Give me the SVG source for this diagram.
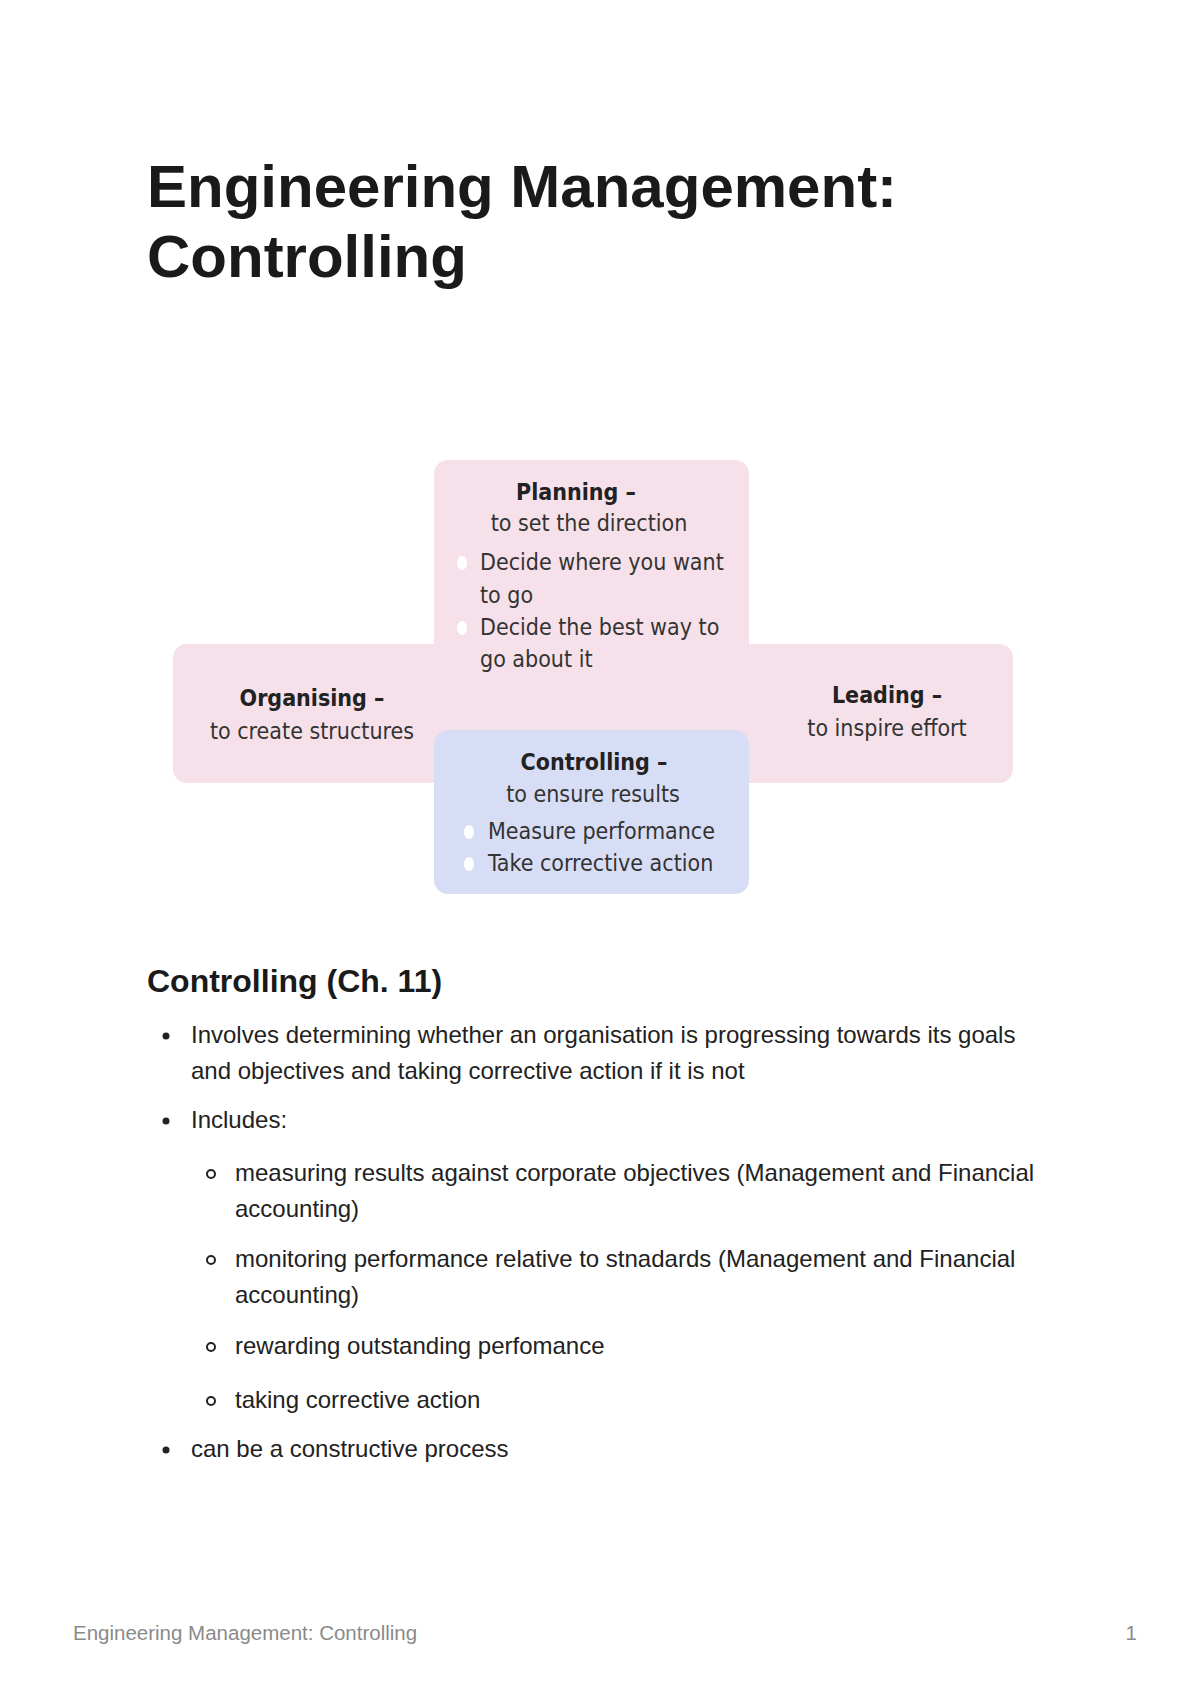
<svg xmlns="http://www.w3.org/2000/svg" width="1200" height="1698" viewBox="0 0 1200 1698">
<style>
.t{font-family:"Liberation Sans",Arial,sans-serif;fill:#1a1a1a}
.b{font-size:24px;fill:#222}
.d{font-family:"DejaVu Sans Condensed","Liberation Sans Narrow","Liberation Sans",sans-serif;font-size:23px;fill:#333}
.h{font-weight:bold;fill:#222}
.pk{fill:#f6e1ea}
</style>
<rect width="1200" height="1698" fill="#fff"/>
<text class="t" x="147" y="207" font-size="60" font-weight="bold">Engineering Management:</text>
<text class="t" x="147" y="277" font-size="60" font-weight="bold">Controlling</text>
<g transform="translate(-4,-4)">
<g id="band"><rect class="pk" x="177" y="648" width="840" height="139" rx="14"/></g>
<g id="planning">
<rect class="pk" x="438" y="464" width="315" height="220" rx="14"/>
<text class="d h" x="580" y="504" text-anchor="middle">Planning –</text>
<text class="d" x="593" y="535" text-anchor="middle">to set the direction</text>
<ellipse cx="466" cy="567" rx="5" ry="7" fill="#fff"/>
<text class="d" x="484" y="574">Decide where you want</text>
<text class="d" x="484" y="607">to go</text>
<ellipse cx="466" cy="632" rx="5" ry="7" fill="#fff"/>
<text class="d" x="484" y="639">Decide the best way to</text>
<text class="d" x="484" y="671">go about it</text>
</g>
<g id="organising">
<text class="d h" x="316" y="710" text-anchor="middle">Organising –</text>
<text class="d" x="316" y="743" text-anchor="middle">to create structures</text>
</g>
<g id="leading">
<text class="d h" x="891" y="707" text-anchor="middle">Leading –</text>
<text class="d" x="891" y="740" text-anchor="middle">to inspire effort</text>
</g>
<g id="controlling">
<rect x="438" y="734" width="315" height="164" rx="14" fill="#d8ddf6"/>
<text class="d h" x="598" y="774" text-anchor="middle">Controlling –</text>
<text class="d" x="597" y="806" text-anchor="middle">to ensure results</text>
<ellipse cx="473" cy="836" rx="5" ry="7" fill="#fff"/>
<text class="d" x="492" y="843">Measure performance</text>
<ellipse cx="473" cy="868" rx="5" ry="7" fill="#fff"/>
<text class="d" x="492" y="875">Take corrective action</text>
</g>
</g>
<g id="connectors"/>
<text class="t" x="147" y="992" font-size="32" font-weight="bold">Controlling (Ch. 11)</text>
<g>
<circle cx="166" cy="1036" r="3.5" fill="#222"/>
<text class="t b" x="191" y="1043">Involves determining whether an organisation is progressing towards its goals</text>
<text class="t b" x="191" y="1079">and objectives and taking corrective action if it is not</text>
<circle cx="166" cy="1121" r="3.5" fill="#222"/>
<text class="t b" x="191" y="1128">Includes:</text>
<circle cx="211" cy="1174" r="4" fill="none" stroke="#222" stroke-width="2"/>
<text class="t b" x="235" y="1181">measuring results against corporate objectives (Management and Financial</text>
<text class="t b" x="235" y="1217">accounting)</text>
<circle cx="211" cy="1260" r="4" fill="none" stroke="#222" stroke-width="2"/>
<text class="t b" x="235" y="1267">monitoring performance relative to stnadards (Management and Financial</text>
<text class="t b" x="235" y="1303">accounting)</text>
<circle cx="211" cy="1347" r="4" fill="none" stroke="#222" stroke-width="2"/>
<text class="t b" x="235" y="1354">rewarding outstanding perfomance</text>
<circle cx="211" cy="1401" r="4" fill="none" stroke="#222" stroke-width="2"/>
<text class="t b" x="235" y="1408">taking corrective action</text>
<circle cx="166" cy="1450" r="3.5" fill="#222"/>
<text class="t b" x="191" y="1457">can be a constructive process</text>
</g>
<text x="73" y="1640" font-family="Liberation Sans,sans-serif" font-size="20.5" fill="#8a8a8a">Engineering Management: Controlling</text>
<text x="1137" y="1640" font-family="Liberation Sans,sans-serif" font-size="20.5" fill="#8a8a8a" text-anchor="end">1</text>
</svg>
